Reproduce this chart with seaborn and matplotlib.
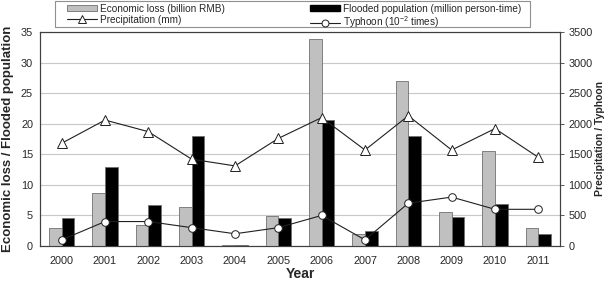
import matplotlib
matplotlib.use("Agg")
import matplotlib.pyplot as plt
import seaborn as sns
import pandas as pd
import numpy as np
from matplotlib.ticker import FixedLocator
from matplotlib.patches import Patch, Rectangle
from matplotlib.lines import Line2D

years = ["2000", "2001", "2002", "2003", "2004", "2005", "2006", "2007", "2008", "2009", "2010", "2011"]
economic_loss = [2.9, 8.6, 3.5, 6.4, 0.1, 4.9, 33.8, 2.0, 27.0, 5.6, 15.5, 3.0]
flooded_pop = [4.5, 12.9, 6.7, 18.0, 0.2, 4.5, 20.6, 2.4, 18.0, 4.8, 6.9, 2.0]
precipitation = [1680, 2060, 1870, 1420, 1310, 1760, 2100, 1570, 2130, 1570, 1920, 1450]
typhoon = [100, 400, 400, 300, 200, 300, 500, 100, 700, 800, 600, 600]

lab_econ = "Economic loss (billion RMB)"
lab_flood = "Flooded population (million person-time)"
lab_prec = "Precipitation (mm)"
lab_typh = "Typhoon (10$^{-2}$ times)"

sns.set_theme(style="white")
plt.rcParams["font.family"] = ["Liberation Sans", "DejaVu Sans"]
plt.rcParams["mathtext.fontset"] = "custom"
plt.rcParams["mathtext.rm"] = "Liberation Sans"
plt.rcParams["mathtext.it"] = "Liberation Sans"

df = pd.DataFrame({
    "Year": years * 2,
    "value": economic_loss + flooded_pop,
    "series": [lab_econ] * len(years) + [lab_flood] * len(years),
})

W, H = 609, 281
fig = plt.figure(figsize=(W / 100, H / 100), dpi=100)
ax = fig.add_axes([40 / W, 1 - 246 / H, 520 / W, 214 / H])

sns.barplot(data=df, x="Year", y="value", hue="series", ax=ax,
            palette={lab_econ: "#C0C0C0", lab_flood: "#000000"},
            width=0.58, edgecolor="#707070", linewidth=0.6, saturation=1,
            legend=False, zorder=3)

ax.set_ylim(0, 35)
ax.set_xlim(-0.5, len(years) - 0.5)
ax.set_yticks(np.arange(0, 36, 5))
ax.yaxis.grid(True, color="#C8C8C8", linewidth=0.8, zorder=0)
ax.set_axisbelow(True)
ax.tick_params(axis="x", which="major", length=0, pad=7, labelsize=7.8)
ax.xaxis.set_minor_locator(FixedLocator(np.arange(0.5, len(years) - 1, 1.0)))
ax.tick_params(axis="x", which="minor", length=3, direction="in", width=0.6, color="#404040")
ax.tick_params(axis="y", length=0, pad=5, labelsize=7.8)
ax.set_xlabel("Year", fontsize=10, fontweight="bold", labelpad=1)
ax.set_ylabel("Economic loss / Flooded population", fontsize=9.5, fontweight="bold", labelpad=5)
for s in ax.spines.values():
    s.set_color("#404040")
    s.set_linewidth(0.8)

ax2 = ax.twinx()
xpos = np.arange(len(years))
sns.lineplot(x=xpos, y=precipitation, ax=ax2, color="#202020", linewidth=0.8,
             marker="^", markersize=6.5, markerfacecolor="white",
             markeredgecolor="#202020", markeredgewidth=0.7, zorder=5)
sns.lineplot(x=xpos, y=typhoon, ax=ax2, color="#202020", linewidth=0.8,
             marker="o", markersize=5.5, markerfacecolor="white",
             markeredgecolor="#202020", markeredgewidth=0.7, zorder=5)
ax2.set_ylim(0, 3500)
ax2.set_yticks(np.arange(0, 3501, 500))
ax2.tick_params(axis="y", length=3, width=0.6, pad=3, labelsize=7.8, color="#404040", right=True)
ax2.set_ylabel("Precipitation / Typhoon", fontsize=7.5, fontweight="bold", labelpad=2)
ax2.grid(False)
for s in ax2.spines.values():
    s.set_color("#404040")
    s.set_linewidth(0.8)

handles = [
    Patch(facecolor="#C0C0C0", edgecolor="#707070", linewidth=0.6, label=lab_econ),
    Line2D([], [], color="#202020", lw=0.8, marker="^", markersize=5.5, markerfacecolor="white",
           markeredgecolor="#202020", markeredgewidth=0.7, label=lab_prec),
    Patch(facecolor="#000000", edgecolor="#000000", label=lab_flood),
    Line2D([], [], color="#202020", lw=0.8, marker="o", markersize=5, markerfacecolor="white",
           markeredgecolor="#202020", markeredgewidth=0.7, label=lab_typh),
]
fig.patches.append(Rectangle((55 / W, 1 - 27 / H), 475 / W, 26 / H,
                             transform=fig.transFigure, facecolor="white",
                             edgecolor="#909090", linewidth=0.8, zorder=0))
leg = fig.legend(handles=handles, ncol=2, mode="expand",
                 bbox_to_anchor=(67 / W, 1 - 30 / H, 454 / W, 26 / H),
                 loc="center", fontsize=7.2, frameon=False,
                 handlelength=3.0, handleheight=0.5,
                 handletextpad=0.25, borderpad=0.0, labelspacing=0.1,
                 borderaxespad=0)

fig.savefig("out.png", dpi=100)
